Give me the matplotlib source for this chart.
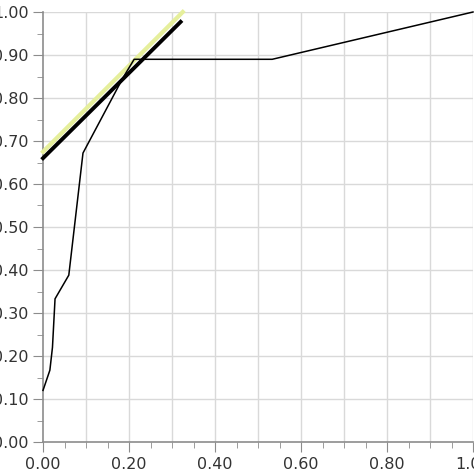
import numpy as np
import matplotlib
matplotlib.use("Agg")
import matplotlib.pyplot as plt
from matplotlib.ticker import MultipleLocator, FormatStrFormatter

# curve data
curve_x = [0.0, 0.016, 0.022, 0.028, 0.06, 0.093, 0.186, 0.212, 0.533, 1.0]
curve_y = [0.12, 0.167, 0.22, 0.333, 0.388, 0.672, 0.847, 0.89, 0.89, 1.0]
# tangent lines
black_x = [0.0, 0.32]
black_y = [0.66, 0.977]
yellow_x = [0.0, 0.325]
yellow_y = [0.675, 1.0]

AXIS = "#8c8c8c"
GRID = "#d9d9d9"
TEXT = "#333333"

fig = plt.figure(figsize=(4.74, 4.74), dpi=100, facecolor="white")
ax = fig.add_axes([43 / 474, 32 / 474, 430 / 474, 430 / 474])

ax.plot(yellow_x, yellow_y, color="#e6ef9c", linewidth=3, zorder=3, clip_on=False)
ax.plot(black_x, black_y, color="black", linewidth=2.8, zorder=4, clip_on=False)
ax.plot(curve_x, curve_y, color="black", linewidth=1.1, zorder=5, clip_on=False)

ax.set_xlim(0, 1)
ax.set_ylim(0, 1)
ax.xaxis.set_major_locator(MultipleLocator(0.2))
ax.xaxis.set_minor_locator(MultipleLocator(0.05))
ax.yaxis.set_major_locator(MultipleLocator(0.1))
ax.yaxis.set_minor_locator(MultipleLocator(0.05))
ax.xaxis.set_major_formatter(FormatStrFormatter("%.2f"))
ax.yaxis.set_major_formatter(FormatStrFormatter("%.2f"))

for xv in np.arange(0.1, 1.01, 0.1):
    ax.axvline(xv, color=GRID, linewidth=1, zorder=1)
for yv in np.arange(0.1, 1.01, 0.1):
    ax.axhline(yv, color=GRID, linewidth=1, zorder=1)

for s in ["top", "right"]:
    ax.spines[s].set_visible(False)
for s in ["left", "bottom"]:
    ax.spines[s].set_color(AXIS)
    ax.spines[s].set_linewidth(1.2)

ax.tick_params(which="major", length=7, color=AXIS, labelcolor=TEXT, labelsize=11.5)
ax.tick_params(which="minor", length=4, color=AXIS)

fig.savefig("out.png", dpi=100, facecolor="white")
